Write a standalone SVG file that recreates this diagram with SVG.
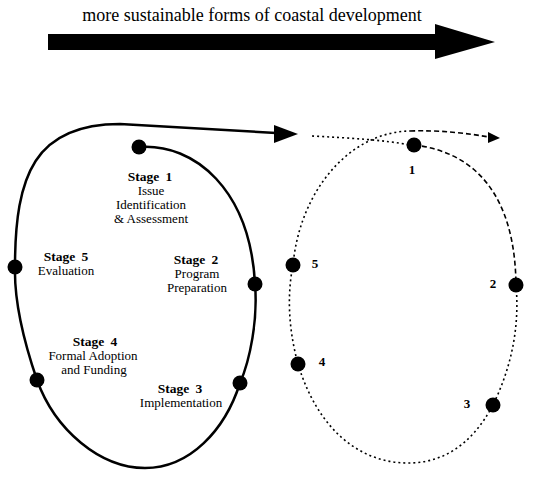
<svg xmlns="http://www.w3.org/2000/svg" width="539" height="481" viewBox="0 0 539 481">
<style>
text{font-family:"Liberation Serif","Times New Roman",serif;fill:#000}
.lbl{font-size:13px;text-anchor:middle}
.stg{font-size:13.5px;font-weight:bold;text-anchor:middle;word-spacing:3px}
.num{font-size:13px;font-weight:bold;text-anchor:middle}
.dot{fill:#000}
.solid{fill:none;stroke:#000;stroke-width:2.5}
.dash{fill:none;stroke:#000;stroke-width:1.6;stroke-dasharray:5 3}
.dotl{fill:none;stroke:#000;stroke-width:1.6;stroke-dasharray:2 3}
</style>
<rect width="539" height="481" fill="#fff"/>
<g id="title">
<text x="252" y="21" style="font-size:18px" text-anchor="middle">more sustainable forms of coastal development</text>
<polygon points="48,34 435,34 435,24 495,42 435,59 435,50 48,50" fill="#000"/>
</g>
<g id="connectors">
<path class="solid" d="M139,147 C195,143 250,190 255,284 C258,320 250,360 240,383 C225,430 190,468 145,468 C100,468 55,430 37,380 C25,345 14,305 15,267 C15,175 35,124 120,124 L276,133"/>
<polygon points="274,125 298,134 274,143" fill="#000"/>
<path class="dash" d="M414,145 C475,152 515,195 516,285"/>
<path class="dotl" d="M516,285 C520,330 510,370 493,405 C470,448 440,463 408,463 C360,463 318,430 298,364 C290,335 286,300 293,265 C300,190 350,132 410,131"/>
<path class="dash" d="M410,131 C440,130 465,133 489,137"/>
<polygon points="488,132 500,138 488,143" fill="#000"/>
<path class="dotl" d="M312,136 C350,138 385,140 410,145"/>
</g>
<g id="stage1">
<circle class="dot" cx="139" cy="147" r="7.5"/>
<text class="stg" x="150" y="181">Stage 1</text>
<text class="lbl" x="151" y="195">Issue</text>
<text class="lbl" x="151" y="209">Identification</text>
<text class="lbl" x="151" y="223">&amp; Assessment</text>
</g>
<g id="stage2">
<circle class="dot" cx="255" cy="284" r="7.5"/>
<text class="stg" x="196" y="264">Stage 2</text>
<text class="lbl" x="197" y="278">Program</text>
<text class="lbl" x="197" y="292">Preparation</text>
</g>
<g id="stage3">
<circle class="dot" cx="240" cy="383" r="7.5"/>
<text class="stg" x="180" y="393">Stage 3</text>
<text class="lbl" x="181" y="407">Implementation</text>
</g>
<g id="stage4">
<circle class="dot" cx="37" cy="380" r="7.5"/>
<text class="stg" x="95" y="346">Stage 4</text>
<text class="lbl" x="93" y="360">Formal Adoption</text>
<text class="lbl" x="94" y="374">and Funding</text>
</g>
<g id="stage5">
<circle class="dot" cx="15" cy="267" r="7.5"/>
<text class="stg" x="66" y="261">Stage 5</text>
<text class="lbl" x="66" y="275">Evaluation</text>
</g>
<g id="next1">
<circle class="dot" cx="414" cy="145" r="7.5"/>
<text class="num" x="412" y="174">1</text>
</g>
<g id="next2">
<circle class="dot" cx="516" cy="285" r="7.5"/>
<text class="num" x="493" y="288">2</text>
</g>
<g id="next3">
<circle class="dot" cx="493" cy="405" r="7.5"/>
<text class="num" x="467" y="408">3</text>
</g>
<g id="next4">
<circle class="dot" cx="298" cy="364" r="7.5"/>
<text class="num" x="322" y="366">4</text>
</g>
<g id="next5">
<circle class="dot" cx="293" cy="265" r="7.5"/>
<text class="num" x="315" y="268">5</text>
</g>
</svg>
